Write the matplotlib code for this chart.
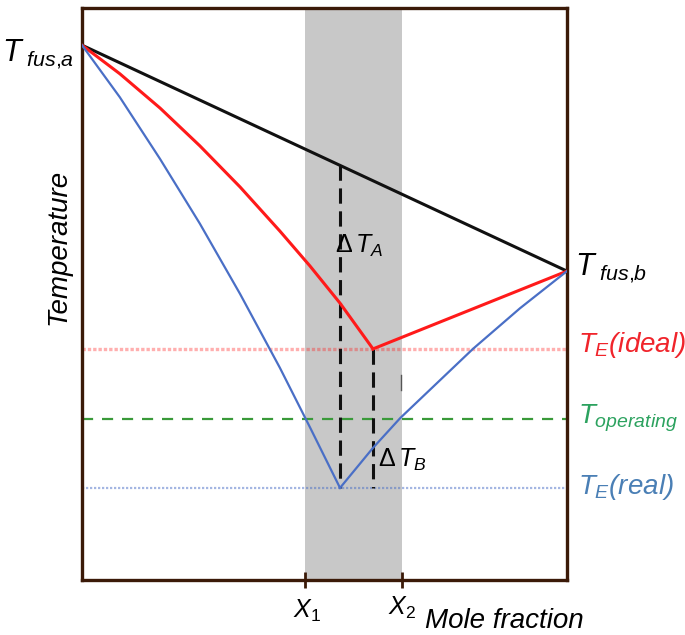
import matplotlib
matplotlib.use("Agg")
import matplotlib.pyplot as plt

# mathtext in an Arial-like italic
plt.rcParams['mathtext.fontset'] = 'custom'
plt.rcParams['mathtext.rm'] = 'Liberation Sans'
plt.rcParams['mathtext.it'] = 'Liberation Sans:italic'
plt.rcParams['font.family'] = 'Liberation Sans'

# ---- data (mole fraction 0..1, temperature in arbitrary units 0..100)
T_fus_a = 93.5
T_fus_b = 54.0

liquidus_x = [0.0, 1.0]
liquidus_T = [T_fus_a, T_fus_b]

ideal_left_x = [0.0, 0.078, 0.161, 0.243, 0.326, 0.408, 0.470, 0.532, 0.600]
ideal_left_T = [93.5, 88.5, 82.5, 75.9, 68.7, 61.0, 54.9, 48.4, 40.4]
ideal_right_x = [0.600, 1.0]
ideal_right_T = [40.4, 54.0]

real_left_x = [0.0, 0.078, 0.161, 0.243, 0.326, 0.408, 0.470, 0.532]
real_left_T = [93.5, 84.4, 73.6, 62.3, 50.0, 37.1, 26.7, 16.1]
real_right_x = [0.532, 0.600, 0.656, 0.806, 0.903, 1.0]
real_right_T = [16.1, 23.1, 28.3, 40.4, 47.5, 54.0]

T_E_ideal = 40.4
T_operating = 28.1
T_E_real = 16.1

x_eut_real = 0.532
x_eut_ideal = 0.600
T_liq_at_real = 72.5

X1, X2 = 0.46, 0.66

FRAME = '#3b1a08'
RED = '#ff1a1a'
BLUE = '#4a6fc6'

fig = plt.figure(figsize=(6.85, 6.35), dpi=100)
ax = fig.add_axes([82 / 685, 55 / 635, 485 / 685, 572 / 635])
ax.set_xlim(0, 1)
ax.set_ylim(0, 100)

# operating window
ax.axvspan(X1, X2, color='#c8c8c8', lw=0, zorder=0)

# horizontal reference lines
ax.axhline(T_E_ideal, color=RED, lw=2.4, ls=(0, (1, 0.6)), alpha=0.35, zorder=1)
ax.axhline(T_operating, color='#3a9a3a', lw=1.6, ls=(0, (5, 4)), zorder=1)
ax.axhline(T_E_real, color=BLUE, lw=1.6, ls=(0, (1, 0.8)), alpha=0.5, zorder=1)

# curves
ax.plot(liquidus_x, liquidus_T, color='#111111', lw=2.2, zorder=3)
ax.plot(ideal_left_x, ideal_left_T, color=RED, lw=2.2, zorder=3)
ax.plot(ideal_right_x, ideal_right_T, color=RED, lw=2.2, zorder=3)
ax.plot(real_left_x, real_left_T, color=BLUE, lw=1.6, zorder=3)
ax.plot(real_right_x, real_right_T, color=BLUE, lw=1.6, zorder=3)

# delta T markers
ax.plot([x_eut_real, x_eut_real], [T_liq_at_real, T_E_real], color='#111111',
        lw=2.2, ls=(0, (5, 2.5)), zorder=2)
ax.plot([x_eut_ideal, x_eut_ideal], [T_E_ideal, T_E_real], color='#111111',
        lw=2.2, ls=(0, (5, 2.5)), zorder=2)
ax.plot([0.657, 0.657], [35.8, 35.8 - 2.6], color='#555555', lw=1.0, zorder=2)

ax.text(0.522, 57.2, r'Δ$\,T_A$', fontsize=18, va='baseline', ha='left')
ax.text(0.610, 19.8, r'Δ$\,T_B$', fontsize=18, va='baseline', ha='left')

# frame
for s in ax.spines.values():
    s.set_color(FRAME)
    s.set_linewidth(2.4)

ax.set_yticks([])
ax.set_xticks([X1, X2])
ax.set_xticklabels([])
ax.tick_params(axis='x', direction='inout', length=12, width=2, color=FRAME)

# labels outside the frame
kw = dict(va='baseline', ha='left', clip_on=False)
ax.text(-0.165, 90.6, r'$T_{\ fus{,}a}$', fontsize=22, **kw)
ax.text(1.016, 53.3, r'$T_{\ fus{,}b}$', fontsize=22, **kw)
ax.text(1.023, 39.9, r'$T_E$(ideal)', fontsize=20, style='italic', color='#f0242b', **kw)
ax.text(1.023, 27.4, r'$T_{operating}$', fontsize=20, color='#2ca25f', **kw)
ax.text(1.023, 15.0, r'$T_E$(real)', fontsize=20, style='italic', color='#4a7fb5', **kw)

ax.text(0.435, -6.6, r'$X_{\mathit{1}}$', fontsize=18, **kw)
ax.text(0.631, -6.1, r'$X_{\mathit{2}}$', fontsize=18, **kw)
ax.text(0.707, -8.4, 'Mole fraction', fontsize=20, style='italic', **kw)
ax.text(-0.049, 58.2, 'Temperature', fontsize=20, style='italic', rotation=90,
        va='center', ha='center', clip_on=False)

fig.savefig('out.png', dpi=100)
